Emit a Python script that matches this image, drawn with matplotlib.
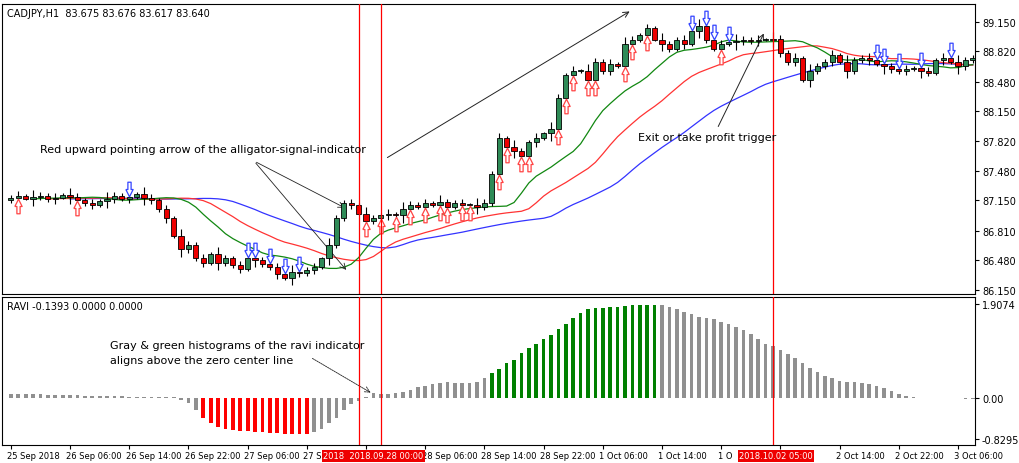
import numpy as np
import matplotlib
matplotlib.use("Agg")
import matplotlib.pyplot as plt
from matplotlib.path import Path
from matplotlib.patches import Rectangle

# hourly closes, CADJPY H1, bar 0 = 25 Sep 22:00
closes = [87.18, 87.20, 87.17, 87.19, 87.20, 87.16, 87.18, 87.21, 87.19, 87.15,
          87.12, 87.10, 87.14, 87.16, 87.20, 87.17, 87.19, 87.22, 87.18, 87.15,
          87.05, 86.95, 86.75, 86.60, 86.65, 86.50, 86.45, 86.55,
          86.45, 86.50, 86.42, 86.38, 86.50, 86.48, 86.44, 86.40, 86.32, 86.28, 86.35, 86.33, 86.37,
          86.40, 86.50, 86.65, 86.95, 87.12, 87.10, 87.00,
          86.92, 86.95, 86.98, 87.00, 86.98, 87.05, 87.10, 87.08, 87.12, 87.10, 87.13, 87.08,
          87.12, 87.10, 87.10, 87.08, 87.12,
          87.45, 87.85, 87.75, 87.70, 87.65, 87.80, 87.85, 87.90, 87.95,
          88.30, 88.55, 88.60, 88.60, 88.50, 88.70, 88.60,
          88.68, 88.65, 88.90, 88.95, 89.00, 89.08, 88.95, 88.90, 88.85,
          88.95, 88.90, 89.05, 89.10, 88.95, 88.85, 88.90, 88.92, 88.93, 88.95, 88.93, 88.95,
          88.95, 88.96,
          88.80, 88.70, 88.75, 88.50, 88.60, 88.65, 88.70,
          88.78, 88.70, 88.60, 88.72, 88.75, 88.72, 88.68, 88.65, 88.62, 88.60, 88.62, 88.63,
          88.60, 88.58, 88.72, 88.75, 88.70, 88.65, 88.72, 88.75]
first_open = 87.15
wick_sizes = [0.03, 0.05, 0.02, 0.08, 0.04]

up_arrows = [1, 9, 48, 50, 52, 54, 56, 58, 59, 61, 62, 66, 67, 69, 70, 74, 75, 76, 78,
             79, 83, 84, 86, 96]
down_arrows = [16, 32, 33, 35, 37, 39, 92, 94, 95, 97, 117, 118, 120, 123, 127]

ravi = [0.08, 0.09, 0.09, 0.08, 0.08, 0.07, 0.07, 0.06, 0.06, 0.06, 0.05, 0.05, 0.05,
        0.04, 0.04, 0.04, 0.03, 0.03, 0.03, 0.02, 0.02, 0.02, 0.02, -0.03, -0.10, -0.25,
        -0.40, -0.50, -0.58, -0.62, -0.64, -0.66, -0.67, -0.68, -0.69, -0.70, -0.70,
        -0.72, -0.73, -0.73, -0.73, -0.68, -0.62, -0.50, -0.40, -0.25, -0.12, -0.05,
        0.03, 0.10, 0.08, 0.08, 0.10, 0.12, 0.17, 0.22, 0.25, 0.28, 0.30, 0.32, 0.30,
        0.30, 0.30, 0.33, 0.40, 0.50, 0.60, 0.72, 0.77, 0.92, 1.02, 1.10, 1.20, 1.28,
        1.40, 1.50, 1.62, 1.72, 1.80, 1.82, 1.83, 1.84, 1.84, 1.86, 1.88, 1.89, 1.89,
        1.89, 1.88, 1.84, 1.80, 1.75, 1.70, 1.65, 1.62, 1.60, 1.55, 1.50, 1.45, 1.38,
        1.30, 1.20, 1.10, 1.05, 0.98, 0.90, 0.82, 0.72, 0.62, 0.52, 0.45, 0.40, 0.35,
        0.33, 0.32, 0.30, 0.28, 0.24, 0.20, 0.15, 0.08, 0.04, 0.02, 0.01, 0.01, 0.01,
        0.01, 0.01, 0.0, -0.01, -0.01]
red_bars = (26, 40)
green_bars = (65, 87)

tick_labels = ["25 Sep 2018", "26 Sep 06:00", "26 Sep 14:00", "26 Sep 22:00", "27 Sep 06:00",
               "27 S", "", "28 Sep 06:00", "28 Sep 14:00", "28 Sep 22:00", "1 Oct 06:00",
               "1 Oct 14:00", "1 O", "", "2 Oct 14:00", "2 Oct 22:00", "3 Oct 06:00"]
signal_bars = [47, 50, 103]
price_ticks = [86.15, 86.48, 86.81, 87.15, 87.48, 87.82, 88.15, 88.48, 88.82, 89.15]
price_tick_labels = ["86.150", "86.480", "86.810", "87.150", "87.480", "87.820",
                     "88.150", "88.480", "88.820", "89.150"]

n = len(closes)
opens = [first_open] + closes[:-1]
x = np.arange(n)

# alligator lines: smoothed MA of median price, shifted forward
def smma(vals, period):
    out = [vals[0]]
    for v in vals[1:]:
        out.append((out[-1] * (period - 1) + v) / period)
    return np.array(out)

mid = (np.array(opens) + np.array(closes)) / 2
jaw = smma(mid, 16)
teeth = smma(mid, 9)
lips = smma(mid, 5)

W, H = 1020, 464
fig = plt.figure(figsize=(W / 100, H / 100), dpi=100)
L, R = 2 / W, 975 / W
ax = fig.add_axes([L, (H - 295) / H, R - L, 290 / H])
ax2 = fig.add_axes([L, (H - 446) / H, R - L, 148 / H])

xmin, xmax = -1.2, 130.3
for a in (ax, ax2):
    a.set_xlim(xmin, xmax)
    a.yaxis.tick_right()
    a.tick_params(labelsize=7, length=3, pad=2)
    for s in a.spines.values():
        s.set_linewidth(0.8)

# candles
for i in range(n):
    o, c = opens[i], closes[i]
    w = wick_sizes[i % len(wick_sizes)]
    ax.vlines(i, min(o, c) - w, max(o, c) + w, color="black", lw=0.8, zorder=3)
    col = "#2e8b57" if c >= o else "#ee0000"
    ax.add_patch(Rectangle((i - 0.35, min(o, c)), 0.7, max(abs(c - o), 0.008),
                           facecolor=col, edgecolor="black", lw=0.6, zorder=4))

ax.plot(x[8:], jaw[:-8], color="#3333ff", lw=0.9, zorder=2)
ax.plot(x[5:], teeth[:-5], color="#ff3333", lw=0.9, zorder=2)
ax.plot(x[3:], lips[:-3], color="#118811", lw=0.9, zorder=2)

arrow_up = Path([(-0.5, 0), (0, 1), (0.5, 0), (0.22, 0), (0.22, -1), (-0.22, -1),
                 (-0.22, 0), (-0.5, 0)])
arrow_dn = Path([(vx, -vy) for vx, vy in arrow_up.vertices])
ax.scatter([i for i in up_arrows], [min(opens[i], closes[i]) - 0.09 for i in up_arrows],
           marker=arrow_up, s=110, facecolor="white", edgecolor="#ff4444", lw=0.9, zorder=5)
ax.scatter([i for i in down_arrows], [max(opens[i], closes[i]) + 0.09 for i in down_arrows],
           marker=arrow_dn, s=110, facecolor="white", edgecolor="#3344ff", lw=0.9, zorder=5)

ax.set_ylim(86.10, 89.35)
ax.set_yticks(price_ticks)
ax.set_yticklabels(price_tick_labels)
ax.set_xticks([])
ax.text(0.005, 0.985, "CADJPY,H1  83.675 83.676 83.617 83.640", transform=ax.transAxes,
        fontsize=7, va="top")

# RAVI histogram
cols = []
for i in range(n):
    if red_bars[0] <= i <= red_bars[1]:
        cols.append("#ff0000")
    elif green_bars[0] <= i <= green_bars[1]:
        cols.append("#008000")
    else:
        cols.append("#909090")
ax2.bar(x, ravi[:n], width=0.5, color=cols)
ax2.set_ylim(-0.95, 2.05)
ax2.set_yticks([1.9074, 0.0, -0.8295])
ax2.set_yticklabels(["1.9074", "0.00", "-0.8295"])
ax2.set_xticks(np.arange(len(tick_labels)) * 8)
ax2.set_xticklabels([])
ax2.text(0.005, 0.97, "RAVI -0.1393 0.0000 0.0000", transform=ax2.transAxes,
         fontsize=7, va="top")
for k, lab in enumerate(tick_labels):
    ax2.text(k * 8 - 0.5, -1.08, lab, fontsize=6, ha="left", va="top")

for b in signal_bars:
    for a in (ax, ax2):
        a.axvline(b, color="#ff0000", lw=0.9, zorder=6)
for b, lab in [(signal_bars[0], "2018  2018.09.28 00:00"), (signal_bars[2], "2018.10.02 05:00")]:
    ax2.text(b - (4.8 if b == signal_bars[0] else 4.6), -1.08, lab, fontsize=6,
             color="white", ha="left", va="top", bbox=dict(facecolor="#ee0000", edgecolor="none", pad=1))

# annotations (figure pixels, y from bottom)
def fp(px, py):
    return (px, H - py)

fig.text(40 / W, (H - 150) / H, "Red upward pointing arrow of the alligator-signal-indicator",
         fontsize=8, va="center")
for tgt in [(347, 210), (348, 273)]:
    ax.annotate("", xy=fp(*tgt), xycoords="figure pixels", xytext=fp(254, 162),
                textcoords="figure pixels", arrowprops=dict(arrowstyle="->", lw=0.6, color="#222222"))
ax.annotate("", xy=fp(632, 11), xycoords="figure pixels", xytext=fp(385, 160),
            textcoords="figure pixels", arrowprops=dict(arrowstyle="->", lw=0.7, color="#222222"))
fig.text(638 / W, (H - 138) / H, "Exit or take profit trigger", fontsize=8, va="center")
ax.annotate("", xy=fp(765, 32), xycoords="figure pixels", xytext=fp(717, 130),
            textcoords="figure pixels", arrowprops=dict(arrowstyle="->", lw=0.7, color="#222222"))
fig.text(110 / W, (H - 346) / H, "Gray & green histograms of the ravi indicator",
         fontsize=8, va="center")
fig.text(110 / W, (H - 361) / H, "aligns above the zero center line", fontsize=8, va="center")
ax2.annotate("", xy=fp(373, 395), xycoords="figure pixels", xytext=fp(310, 358),
             textcoords="figure pixels", arrowprops=dict(arrowstyle="->", lw=0.6, color="#222222",
                                                         linestyle=(0, (2, 1))))

fig.savefig("out.png", dpi=100)
